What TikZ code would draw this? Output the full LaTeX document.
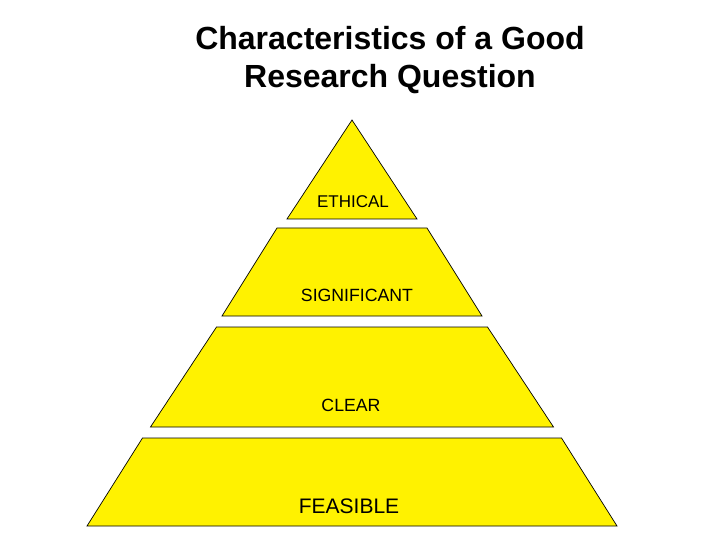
\documentclass[tikz,border=0pt]{standalone}
\usepackage{fontspec}
\setmainfont{Liberation Sans}

\begin{document}
\begin{tikzpicture}[x=1pt, y=-1pt,
		layer/.style={draw=black, line width=0.7pt, fill=yellow, line join=miter},
		layerlabel/.style={anchor=base, inner sep=0pt, text=black}]
	\useasboundingbox (0,0) rectangle (720,540);
	\node [anchor=base, inner sep=0pt, font=\fontsize{32}{38}\selectfont\bfseries, align=center] (title) at (390,88) {Characteristics of a Good\\Research Question};
	\foreach \name/\top/\bottom/\tophalf/\bottomhalf/\textx/\basey/\size/\word in {%
			ethical/120/219/0/65/353/207.7/17/ETHICAL, significant/228/316/75/130/357/301.7/17.7/SIGNIFICANT, clear/327/427/135.5/201.5/351/411.7/17.7/CLEAR, feasible/438/526/209.5/265/349/513/21/FEASIBLE%
	}{%
		\path [layer] (352-\tophalf,\top) -- (352+\tophalf,\top) -- (352+\bottomhalf,\bottom) -- (352-\bottomhalf,\bottom) -- cycle;
		\node [layerlabel, font=\fontsize{\size}{\size}\selectfont] (\name) at (\textx,\basey) {\word};
	}
\end{tikzpicture}
\end{document}
